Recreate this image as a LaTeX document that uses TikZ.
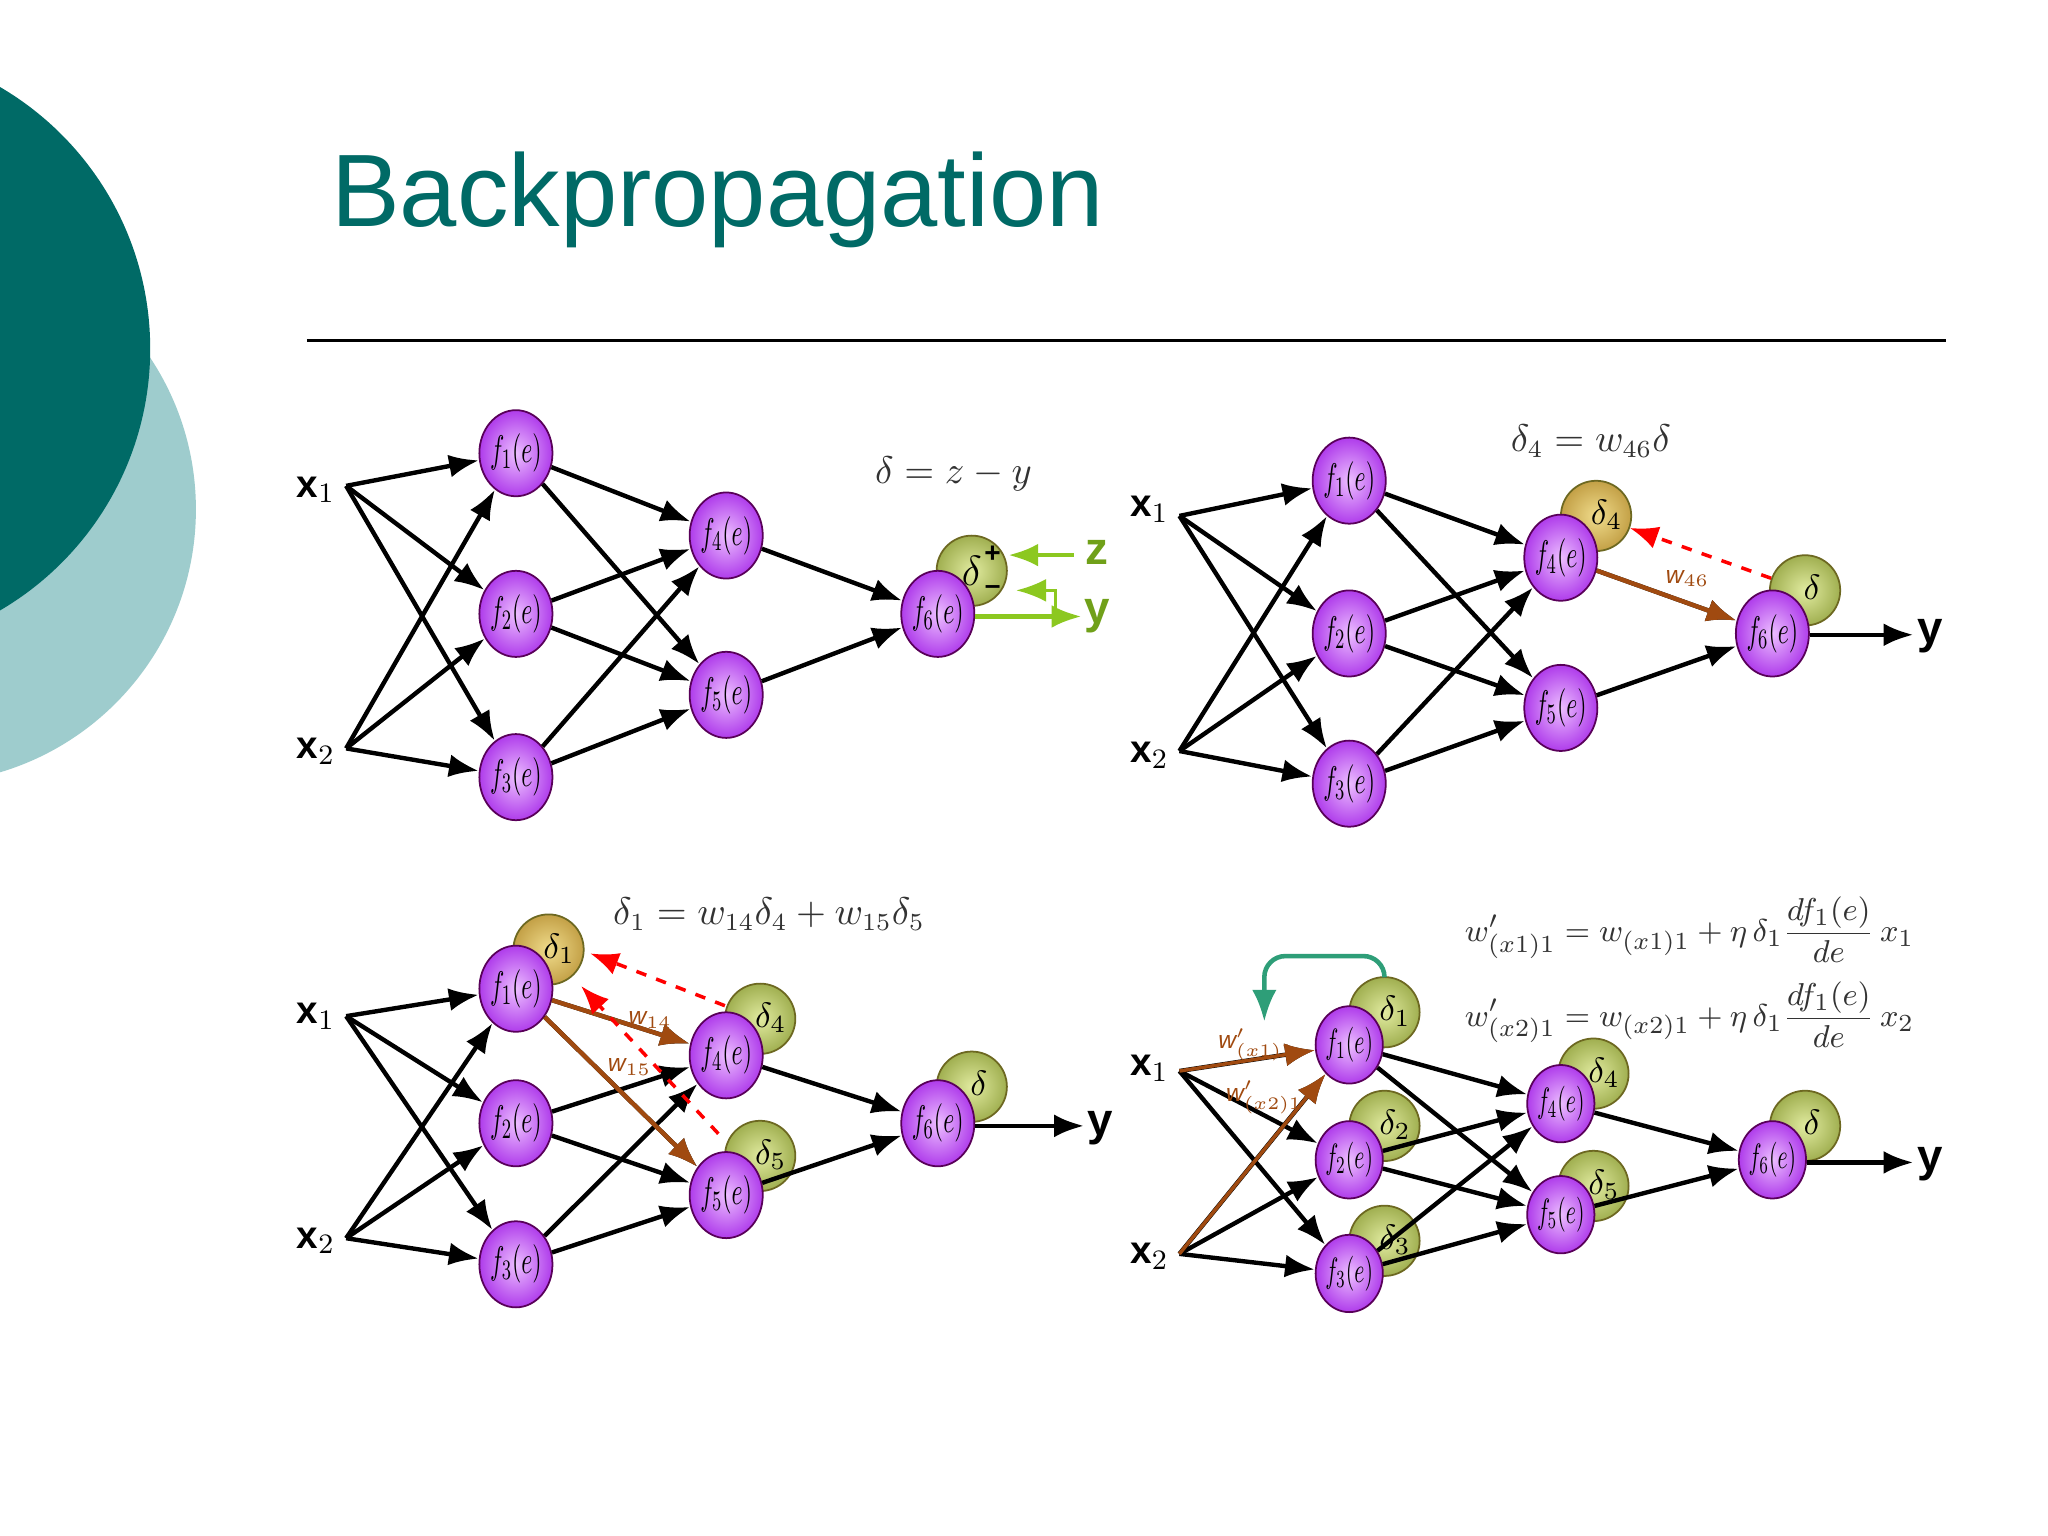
\documentclass[tikz,border=0pt]{standalone}
\usepackage{fontspec}
\usepackage{graphicx}
\setmainfont{Liberation Serif}
\setsansfont{Liberation Sans}
\usetikzlibrary{arrows.meta,shapes.geometric}
\definecolor{teald}{HTML}{006A66}
\definecolor{teall}{HTML}{9ECCCD}
\definecolor{brn}{HTML}{A04A10}
\definecolor{grn}{HTML}{8CC820}
\definecolor{loopg}{HTML}{2E9E78}
\newcommand{\fl}[1]{\scalebox{0.62}[1]{$f_{#1}(e)$}}
\tikzset{
 fn/.style={ellipse,draw=violet!70!black,line width=0.5pt,inner sep=0pt,minimum width=19.3pt,minimum height=24.5pt,inner color={rgb,255:red,236;green,190;blue,255},outer color={rgb,255:red,175;green,60;blue,235},font=\fontsize{11}{11}\selectfont},
 fns/.style={fn,minimum width=18.6pt,minimum height=22pt,font=\fontsize{10}{10}\selectfont},
 dl/.style={circle,draw=olive!70!black,line width=0.5pt,minimum size=20pt,inner sep=0pt,inner color={rgb,255:red,225;green,235;blue,160},outer color={rgb,255:red,160;green,175;blue,80},font=\fontsize{10}{10}\selectfont,text depth=0pt},
 dlt/.style={dl,inner color={rgb,255:red,240;green,220;blue,140},outer color={rgb,255:red,195;green,160;blue,70}},
 ar/.style={-{Latex[length=8.5pt,width=6.5pt]},line width=1.25pt,black},
 br/.style={ar,brn},
 rd/.style={-{Latex[length=8pt,width=6.5pt]},line width=1pt,red,dashed},
 xl/.style={font=\sffamily\bfseries\fontsize{11}{11}\selectfont,inner sep=1pt},
 eq/.style={font=\fontsize{10.5}{10.5}\selectfont,text=black!80},
 eqs/.style={font=\fontsize{9.5}{9.5}\selectfont,text=black!80},
 wl/.style={text=brn,font=\sffamily\itshape\fontsize{7}{7}\selectfont,inner sep=0pt},
 yl/.style={xl,font=\sffamily\bfseries\fontsize{13}{13}\selectfont},
}
\newcommand{\edges}[1]{%
 \foreach \s in {1,2,3}{\draw[ar] (#1i1) -- (#1\s); \draw[ar] (#1i2) -- (#1\s);}
 \foreach \s in {1,2,3}{\draw[ar] (#1\s) -- (#14); \draw[ar] (#1\s) -- (#15);}
 \draw[ar] (#14) -- (#16); \draw[ar] (#15) -- (#16);}
\begin{document}
\begin{tikzpicture}[x=0.01306cm,y=-0.01306cm]
\useasboundingbox (0,0) rectangle (1568,1176);
\fill[white] (0,0) rectangle (1568,1176);
\begin{scope}
\clip (0,0) rectangle (1568,1176);
\fill[teall] (-60,390) circle (210);
\fill[teald] (-117,267) circle (232);
\end{scope}
\node[anchor=west,text=teald,font=\sffamily\fontsize{29.3}{29.3}\selectfont] (title) at (244,153) {Backpropagation};
\draw[line width=0.8pt] (235,261) -- (1490,261);

% ---------- panel 1
\node[xl] (ax1) at (242,375) {x$_1$};
\node[xl] (ax2) at (242,575) {x$_2$};
\coordinate (ai1) at (265,372); \coordinate (ai2) at (265,573);
\node[dl] (ad) at (744,437) {};
\node[fn] (a1) at (395,347) {\fl1};
\node[fn] (a2) at (395,470) {\fl2};
\node[fn] (a3) at (395,595) {\fl3};
\node[fn] (a4) at (556,410) {\fl4};
\node[fn] (a5) at (556,532) {\fl5};
\node[fn] (a6) at (718,470) {\fl6};
\node[font=\fontsize{12}{12}\selectfont] (adl) at (744,437) {$\delta$};
\node[font=\sffamily\bfseries\fontsize{8}{8}\selectfont] (ap) at (760,424) {+};
\node[font=\sffamily\bfseries\fontsize{8}{8}\selectfont] (am) at (760,452) {–};
\edges{a}
\node[eq] (aeq) at (730,363) {$\delta = z - y$};
\node[yl,text=grn!80!black] (az) at (840,423) {z};
\node[yl,text=grn!80!black] (ay) at (840,472) {y};
\coordinate (azs) at (822,425); \coordinate (aze) at (772,425);
\draw[ar,grn] (azs) -- (aze);
\coordinate (aye) at (828,472);
\draw[ar,grn] (a6.east|-aye) -- (aye);
\coordinate (afb) at (808,472); \coordinate (afe) at (778,452);
\draw[ar,grn,line width=0.9pt] (afb) -- (afb|-afe) -- (afe);

% ---------- panel 2
\node[xl] (bx1) at (880,390) {x$_1$};
\node[xl] (bx2) at (880,578) {x$_2$};
\coordinate (bi1) at (903,395); \coordinate (bi2) at (903,575);
\node[dlt] (bd4) at (1222,395) {\raisebox{2pt}{\hspace{6pt}$\delta_4$}};
\node[dl] (bd) at (1382,452) {\raisebox{2pt}{\hspace{4pt}$\delta$}};
\node[fn] (b1) at (1033,368) {\fl1};
\node[fn] (b2) at (1033,485) {\fl2};
\node[fn] (b3) at (1033,600) {\fl3};
\node[fn] (b4) at (1195,427) {\fl4};
\node[fn] (b5) at (1195,542) {\fl5};
\node[fn] (b6) at (1357,485) {\fl6};
\edges{b}
\draw[br] (b4) -- (b6);
\node[wl] (bw) at (1292,443) {w$_{46}$};
\draw[rd] (bd) -- (bd4);
\coordinate (bye) at (1465,486);
\draw[ar] (b6.east|-bye) -- (bye);
\node[yl] (by) at (1478,487) {y};
\node[eq] (beq) at (1218,338) {$\delta_4 = w_{46}\delta$};

% ---------- panel 3
\node[xl] (cx1) at (242,778) {x$_1$};
\node[xl] (cx2) at (242,950) {x$_2$};
\coordinate (ci1) at (265,778); \coordinate (ci2) at (265,948);
\node[dlt] (cd1) at (420,727) {\raisebox{2pt}{\hspace{6pt}$\delta_1$}};
\node[dl] (cd4) at (582,780) {\raisebox{2pt}{\hspace{6pt}$\delta_4$}};
\node[dl] (cd5) at (582,885) {\raisebox{2pt}{\hspace{6pt}$\delta_5$}};
\node[dl] (cd) at (744,832) {\raisebox{2pt}{\hspace{4pt}$\delta$}};
\node[fn] (c1) at (395,757) {\fl1};
\node[fn] (c2) at (395,860) {\fl2};
\node[fn] (c3) at (395,968) {\fl3};
\node[fn] (c4) at (556,808) {\fl4};
\node[fn] (c5) at (556,915) {\fl5};
\node[fn] (c6) at (718,860) {\fl6};
\edges{c}
\draw[br] (c1) -- (c4); \draw[br] (c1) -- (c5);
\coordinate (cr1s) at (555,770); \coordinate (cr1e) at (452,730);
\coordinate (cr2s) at (550,868); \coordinate (cr2e) at (445,755);
\draw[rd] (cr1s) -- (cr1e);
\draw[rd] (cr2s) -- (cr2e);
\node[wl] (cw14) at (498,781) {w$_{14}$};
\node[wl] (cw15) at (482,817) {w$_{15}$};
\coordinate (cye) at (830,862);
\draw[ar] (c6.east|-cye) -- (cye);
\node[yl] (cy) at (842,864) {y};
\node[eq,anchor=west] (ceq) at (460,700) {$\delta_1 = w_{14}\delta_4 + w_{15}\delta_5$};

% ---------- panel 4
\node[xl] (dx1) at (880,818) {x$_1$};
\node[xl] (dx2) at (880,962) {x$_2$};
\coordinate (di1) at (903,820); \coordinate (di2) at (903,960);
\node[dl] (dd1) at (1060,775) {\raisebox{2pt}{\hspace{6pt}$\delta_1$}};
\node[dl] (dd2) at (1060,862) {\raisebox{2pt}{\hspace{6pt}$\delta_2$}};
\node[dl] (dd3) at (1060,950) {\raisebox{2pt}{\hspace{6pt}$\delta_3$}};
\node[dl] (dd4) at (1220,822) {\raisebox{2pt}{\hspace{6pt}$\delta_4$}};
\node[dl] (dd5) at (1220,908) {\raisebox{2pt}{\hspace{6pt}$\delta_5$}};
\node[dl] (dd) at (1382,862) {\raisebox{2pt}{\hspace{4pt}$\delta$}};
\node[fns] (d1) at (1033,800) {\fl1};
\node[fns] (d2) at (1033,888) {\fl2};
\node[fns] (d3) at (1033,975) {\fl3};
\node[fns] (d4) at (1195,845) {\fl4};
\node[fns] (d5) at (1195,930) {\fl5};
\node[fns] (d6) at (1357,888) {\fl6};
\edges{d}
\draw[br,line width=1pt] (di1) -- (d1); \draw[br,line width=1pt] (di2) -- (d1);
\node[wl] (dw1) at (962,800) {w$'_{(x1)1}$};
\node[wl] (dw2) at (968,840) {w$'_{(x2)1}$};
\coordinate (dl1) at (1058,732); \coordinate (dl2) at (968,782);
\draw[-{Latex[length=9pt,width=7pt]},loopg,line width=1.3pt,rounded corners=6pt] (dd1.north) -- (dd1.north|-dl1) -- (dl2|-dl1) -- (dl2);
\coordinate (dye) at (1465,890);
\draw[ar] (d6.east|-dye) -- (dye);
\node[yl] (dy) at (1478,891) {y};
\node[eqs,anchor=west] (deq1) at (1112,712) {$w'_{(x1)1} = w_{(x1)1} + \eta\,\delta_1 \displaystyle\frac{df_1(e)}{de}\,x_1$};
\node[eqs,anchor=west] (deq2) at (1112,777) {$w'_{(x2)1} = w_{(x2)1} + \eta\,\delta_1 \displaystyle\frac{df_1(e)}{de}\,x_2$};
\end{tikzpicture}
\end{document}
